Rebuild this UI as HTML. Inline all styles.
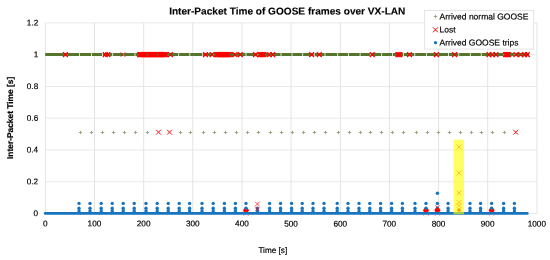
<!DOCTYPE html><html><head><meta charset="utf-8"><title>Inter-Packet Time of GOOSE frames over VX-LAN</title>
<style>html,body{margin:0;padding:0;background:#fff}svg{display:block;filter:blur(0.35px)}text{font-family:"Liberation Sans",sans-serif;fill:#000;text-rendering:geometricPrecision;stroke:#000;stroke-width:0.18px}</style></head><body>
<svg width="550" height="260" viewBox="0 0 550 260">
<rect width="550" height="260" fill="#fff"/>
<path d="M45.4 213.6H536.9M45.4 181.8H536.9M45.4 150.0H536.9M45.4 118.2H536.9M45.4 86.5H536.9M45.4 54.7H536.9M45.4 22.9H536.9" stroke="#e9e9e9" stroke-width="1" fill="none"/>
<path d="M45.4 22.9V213.6M94.5 22.9V213.6M143.7 22.9V213.6M192.8 22.9V213.6M242.0 22.9V213.6M291.1 22.9V213.6M340.3 22.9V213.6M389.4 22.9V213.6M438.6 22.9V213.6M487.7 22.9V213.6M536.9 22.9V213.6" stroke="#e1e1e1" stroke-width="0.9" fill="none"/>
<g transform="rotate(0.03 275 130)">
<text x="45.4" y="226.4" font-size="8.2" text-anchor="middle">0</text>
<text x="94.5" y="226.4" font-size="8.2" text-anchor="middle">100</text>
<text x="143.7" y="226.4" font-size="8.2" text-anchor="middle">200</text>
<text x="192.8" y="226.4" font-size="8.2" text-anchor="middle">300</text>
<text x="242.0" y="226.4" font-size="8.2" text-anchor="middle">400</text>
<text x="291.1" y="226.4" font-size="8.2" text-anchor="middle">500</text>
<text x="340.3" y="226.4" font-size="8.2" text-anchor="middle">600</text>
<text x="389.4" y="226.4" font-size="8.2" text-anchor="middle">700</text>
<text x="438.6" y="226.4" font-size="8.2" text-anchor="middle">800</text>
<text x="487.7" y="226.4" font-size="8.2" text-anchor="middle">900</text>
<text x="536.9" y="226.4" font-size="8.2" text-anchor="middle">1000</text>
<text x="38.2" y="216.2" font-size="8.2" text-anchor="end">0</text>
<text x="38.2" y="184.4" font-size="8.2" text-anchor="end">0.2</text>
<text x="38.2" y="152.7" font-size="8.2" text-anchor="end">0.4</text>
<text x="38.2" y="120.9" font-size="8.2" text-anchor="end">0.6</text>
<text x="38.2" y="89.1" font-size="8.2" text-anchor="end">0.8</text>
<text x="38.2" y="57.4" font-size="8.2" text-anchor="end">1</text>
<text x="38.2" y="25.6" font-size="8.2" text-anchor="end">1.2</text>
<text x="169.1" y="14.55" font-size="10" font-weight="bold" textLength="236.2" lengthAdjust="spacingAndGlyphs" style="stroke-width:0.12px">Inter-Packet Time of GOOSE frames over VX-LAN</text>
<text x="272.9" y="253" font-size="8.2" text-anchor="middle">Time [s]</text>
<text transform="translate(13.1 118.0) rotate(-90.03)" font-size="8.4" font-weight="bold" style="stroke-width:0.2px" text-anchor="middle">Inter-Packet Time [s]</text>
</g>
<path d="M45.2 54.6H79.2M80.0 54.6H91.1M91.9 54.6H102.1M102.9 54.6H112.3M113.1 54.6H123.4M124.1 54.6H134.6M135.4 54.6H146.2M146.9 54.6H157.4M158.1 54.6H168.4M169.1 54.6H178.3M179.1 54.6H189.4M190.2 54.6H202.2M202.9 54.6H213.4M214.1 54.6H224.6M225.3 54.6H235.6M236.3 54.6H245.6M246.4 54.6H257.6M258.3 54.6H269.8M270.5 54.6H280.6M281.4 54.6H291.6M292.4 54.6H302.3M303.1 54.6H313.8M314.6 54.6H324.6M325.4 54.6H337.3M338.1 54.6H348.1M348.9 54.6H359.7M360.5 54.6H370.0M370.7 54.6H381.3M382.1 54.6H392.1M392.9 54.6H403.1M403.9 54.6H414.4M415.2 54.6H426.0M426.8 54.6H437.6M438.3 54.6H448.2M449.0 54.6H458.4M459.2 54.6H469.9M470.7 54.6H480.8M481.6 54.6H491.8M492.5 54.6H503.8M504.5 54.6H514.6M515.3 54.6H529.0" stroke="#55752d" stroke-width="3" fill="none"/>
<path d="M63.0 52.2l4.8 4.8M63.0 57.0l4.8 -4.8" stroke="#ff0000" stroke-width="1.25" fill="none"/>
<path d="M102.9 52.2l4.8 4.8M102.9 57.0l4.8 -4.8" stroke="#ff0000" stroke-width="1.25" fill="none"/>
<path d="M105.5 52.2l4.8 4.8M105.5 57.0l4.8 -4.8" stroke="#ff0000" stroke-width="1.25" fill="none"/>
<path d="M168.0 52.2l4.8 4.8M168.0 57.0l4.8 -4.8" stroke="#ff0000" stroke-width="1.25" fill="none"/>
<path d="M203.1 52.2l4.8 4.8M203.1 57.0l4.8 -4.8" stroke="#ff0000" stroke-width="1.25" fill="none"/>
<path d="M209.7 52.2l4.8 4.8M209.7 57.0l4.8 -4.8" stroke="#ff0000" stroke-width="1.25" fill="none"/>
<path d="M232.6 52.2l4.8 4.8M232.6 57.0l4.8 -4.8" stroke="#ff0000" stroke-width="1.25" fill="none"/>
<path d="M237.9 52.2l4.8 4.8M237.9 57.0l4.8 -4.8" stroke="#ff0000" stroke-width="1.25" fill="none"/>
<path d="M253.1 52.2l4.8 4.8M253.1 57.0l4.8 -4.8" stroke="#ff0000" stroke-width="1.25" fill="none"/>
<path d="M267.1 52.2l4.8 4.8M267.1 57.0l4.8 -4.8" stroke="#ff0000" stroke-width="1.25" fill="none"/>
<path d="M270.3 52.2l4.8 4.8M270.3 57.0l4.8 -4.8" stroke="#ff0000" stroke-width="1.25" fill="none"/>
<path d="M309.2 52.2l4.8 4.8M309.2 57.0l4.8 -4.8" stroke="#ff0000" stroke-width="1.25" fill="none"/>
<path d="M316.9 52.2l4.8 4.8M316.9 57.0l4.8 -4.8" stroke="#ff0000" stroke-width="1.25" fill="none"/>
<path d="M369.8 52.2l4.8 4.8M369.8 57.0l4.8 -4.8" stroke="#ff0000" stroke-width="1.25" fill="none"/>
<path d="M407.1 52.2l4.8 4.8M407.1 57.0l4.8 -4.8" stroke="#ff0000" stroke-width="1.25" fill="none"/>
<path d="M434.0 52.2l4.8 4.8M434.0 57.0l4.8 -4.8" stroke="#ff0000" stroke-width="1.25" fill="none"/>
<path d="M452.2 52.2l4.8 4.8M452.2 57.0l4.8 -4.8" stroke="#ff0000" stroke-width="1.25" fill="none"/>
<path d="M486.6 52.2l4.8 4.8M486.6 57.0l4.8 -4.8" stroke="#ff0000" stroke-width="1.25" fill="none"/>
<path d="M489.8 52.2l4.8 4.8M489.8 57.0l4.8 -4.8" stroke="#ff0000" stroke-width="1.25" fill="none"/>
<path d="M493.6 52.2l4.8 4.8M493.6 57.0l4.8 -4.8" stroke="#ff0000" stroke-width="1.25" fill="none"/>
<path d="M513.6 52.2l4.8 4.8M513.6 57.0l4.8 -4.8" stroke="#ff0000" stroke-width="1.25" fill="none"/>
<path d="M518.2 52.2l4.8 4.8M518.2 57.0l4.8 -4.8" stroke="#ff0000" stroke-width="1.25" fill="none"/>
<path d="M522.2 52.2l4.8 4.8M522.2 57.0l4.8 -4.8" stroke="#ff0000" stroke-width="1.25" fill="none"/>
<path d="M525.0 52.2l4.8 4.8M525.0 57.0l4.8 -4.8" stroke="#ff0000" stroke-width="1.25" fill="none"/>
<path d="M137.2 52.2l4.8 4.8M137.2 57.0l4.8 -4.8" stroke="#ff0000" stroke-width="1.25" fill="none"/>
<path d="M138.2 52.2l4.8 4.8M138.2 57.0l4.8 -4.8" stroke="#ff0000" stroke-width="1.25" fill="none"/>
<path d="M139.2 52.2l4.8 4.8M139.2 57.0l4.8 -4.8" stroke="#ff0000" stroke-width="1.25" fill="none"/>
<path d="M140.2 52.2l4.8 4.8M140.2 57.0l4.8 -4.8" stroke="#ff0000" stroke-width="1.25" fill="none"/>
<path d="M141.2 52.2l4.8 4.8M141.2 57.0l4.8 -4.8" stroke="#ff0000" stroke-width="1.25" fill="none"/>
<path d="M142.2 52.2l4.8 4.8M142.2 57.0l4.8 -4.8" stroke="#ff0000" stroke-width="1.25" fill="none"/>
<path d="M143.2 52.2l4.8 4.8M143.2 57.0l4.8 -4.8" stroke="#ff0000" stroke-width="1.25" fill="none"/>
<path d="M144.1 52.2l4.8 4.8M144.1 57.0l4.8 -4.8" stroke="#ff0000" stroke-width="1.25" fill="none"/>
<path d="M145.1 52.2l4.8 4.8M145.1 57.0l4.8 -4.8" stroke="#ff0000" stroke-width="1.25" fill="none"/>
<path d="M146.1 52.2l4.8 4.8M146.1 57.0l4.8 -4.8" stroke="#ff0000" stroke-width="1.25" fill="none"/>
<path d="M147.1 52.2l4.8 4.8M147.1 57.0l4.8 -4.8" stroke="#ff0000" stroke-width="1.25" fill="none"/>
<path d="M148.1 52.2l4.8 4.8M148.1 57.0l4.8 -4.8" stroke="#ff0000" stroke-width="1.25" fill="none"/>
<path d="M149.1 52.2l4.8 4.8M149.1 57.0l4.8 -4.8" stroke="#ff0000" stroke-width="1.25" fill="none"/>
<path d="M150.1 52.2l4.8 4.8M150.1 57.0l4.8 -4.8" stroke="#ff0000" stroke-width="1.25" fill="none"/>
<path d="M151.1 52.2l4.8 4.8M151.1 57.0l4.8 -4.8" stroke="#ff0000" stroke-width="1.25" fill="none"/>
<path d="M152.1 52.2l4.8 4.8M152.1 57.0l4.8 -4.8" stroke="#ff0000" stroke-width="1.25" fill="none"/>
<path d="M153.1 52.2l4.8 4.8M153.1 57.0l4.8 -4.8" stroke="#ff0000" stroke-width="1.25" fill="none"/>
<path d="M154.1 52.2l4.8 4.8M154.1 57.0l4.8 -4.8" stroke="#ff0000" stroke-width="1.25" fill="none"/>
<path d="M155.1 52.2l4.8 4.8M155.1 57.0l4.8 -4.8" stroke="#ff0000" stroke-width="1.25" fill="none"/>
<path d="M156.1 52.2l4.8 4.8M156.1 57.0l4.8 -4.8" stroke="#ff0000" stroke-width="1.25" fill="none"/>
<path d="M157.0 52.2l4.8 4.8M157.0 57.0l4.8 -4.8" stroke="#ff0000" stroke-width="1.25" fill="none"/>
<path d="M158.0 52.2l4.8 4.8M158.0 57.0l4.8 -4.8" stroke="#ff0000" stroke-width="1.25" fill="none"/>
<path d="M159.0 52.2l4.8 4.8M159.0 57.0l4.8 -4.8" stroke="#ff0000" stroke-width="1.25" fill="none"/>
<path d="M160.0 52.2l4.8 4.8M160.0 57.0l4.8 -4.8" stroke="#ff0000" stroke-width="1.25" fill="none"/>
<path d="M161.0 52.2l4.8 4.8M161.0 57.0l4.8 -4.8" stroke="#ff0000" stroke-width="1.25" fill="none"/>
<path d="M162.0 52.2l4.8 4.8M162.0 57.0l4.8 -4.8" stroke="#ff0000" stroke-width="1.25" fill="none"/>
<path d="M163.0 52.2l4.8 4.8M163.0 57.0l4.8 -4.8" stroke="#ff0000" stroke-width="1.25" fill="none"/>
<path d="M214.0 52.2l4.8 4.8M214.0 57.0l4.8 -4.8" stroke="#ff0000" stroke-width="1.25" fill="none"/>
<path d="M215.0 52.2l4.8 4.8M215.0 57.0l4.8 -4.8" stroke="#ff0000" stroke-width="1.25" fill="none"/>
<path d="M216.0 52.2l4.8 4.8M216.0 57.0l4.8 -4.8" stroke="#ff0000" stroke-width="1.25" fill="none"/>
<path d="M217.0 52.2l4.8 4.8M217.0 57.0l4.8 -4.8" stroke="#ff0000" stroke-width="1.25" fill="none"/>
<path d="M217.9 52.2l4.8 4.8M217.9 57.0l4.8 -4.8" stroke="#ff0000" stroke-width="1.25" fill="none"/>
<path d="M218.9 52.2l4.8 4.8M218.9 57.0l4.8 -4.8" stroke="#ff0000" stroke-width="1.25" fill="none"/>
<path d="M219.9 52.2l4.8 4.8M219.9 57.0l4.8 -4.8" stroke="#ff0000" stroke-width="1.25" fill="none"/>
<path d="M220.9 52.2l4.8 4.8M220.9 57.0l4.8 -4.8" stroke="#ff0000" stroke-width="1.25" fill="none"/>
<path d="M221.9 52.2l4.8 4.8M221.9 57.0l4.8 -4.8" stroke="#ff0000" stroke-width="1.25" fill="none"/>
<path d="M222.9 52.2l4.8 4.8M222.9 57.0l4.8 -4.8" stroke="#ff0000" stroke-width="1.25" fill="none"/>
<path d="M223.9 52.2l4.8 4.8M223.9 57.0l4.8 -4.8" stroke="#ff0000" stroke-width="1.25" fill="none"/>
<path d="M224.8 52.2l4.8 4.8M224.8 57.0l4.8 -4.8" stroke="#ff0000" stroke-width="1.25" fill="none"/>
<path d="M225.8 52.2l4.8 4.8M225.8 57.0l4.8 -4.8" stroke="#ff0000" stroke-width="1.25" fill="none"/>
<path d="M226.8 52.2l4.8 4.8M226.8 57.0l4.8 -4.8" stroke="#ff0000" stroke-width="1.25" fill="none"/>
<path d="M227.8 52.2l4.8 4.8M227.8 57.0l4.8 -4.8" stroke="#ff0000" stroke-width="1.25" fill="none"/>
<path d="M257.5 52.2l4.8 4.8M257.5 57.0l4.8 -4.8" stroke="#ff0000" stroke-width="1.25" fill="none"/>
<path d="M258.5 52.2l4.8 4.8M258.5 57.0l4.8 -4.8" stroke="#ff0000" stroke-width="1.25" fill="none"/>
<path d="M259.6 52.2l4.8 4.8M259.6 57.0l4.8 -4.8" stroke="#ff0000" stroke-width="1.25" fill="none"/>
<path d="M260.6 52.2l4.8 4.8M260.6 57.0l4.8 -4.8" stroke="#ff0000" stroke-width="1.25" fill="none"/>
<path d="M261.6 52.2l4.8 4.8M261.6 57.0l4.8 -4.8" stroke="#ff0000" stroke-width="1.25" fill="none"/>
<path d="M395.5 52.2l4.8 4.8M395.5 57.0l4.8 -4.8" stroke="#ff0000" stroke-width="1.25" fill="none"/>
<path d="M396.5 52.2l4.8 4.8M396.5 57.0l4.8 -4.8" stroke="#ff0000" stroke-width="1.25" fill="none"/>
<path d="M397.5 52.2l4.8 4.8M397.5 57.0l4.8 -4.8" stroke="#ff0000" stroke-width="1.25" fill="none"/>
<path d="M503.1 52.2l4.8 4.8M503.1 57.0l4.8 -4.8" stroke="#ff0000" stroke-width="1.25" fill="none"/>
<path d="M504.1 52.2l4.8 4.8M504.1 57.0l4.8 -4.8" stroke="#ff0000" stroke-width="1.25" fill="none"/>
<path d="M505.0 52.2l4.8 4.8M505.0 57.0l4.8 -4.8" stroke="#ff0000" stroke-width="1.25" fill="none"/>
<path d="M506.0 52.2l4.8 4.8M506.0 57.0l4.8 -4.8" stroke="#ff0000" stroke-width="1.25" fill="none"/>
<path d="M120.5 52.2l4.8 4.8M120.5 57.0l4.8 -4.8" stroke="#ff0000" stroke-width="0.70" fill="none"/>
<circle cx="136.9" cy="54.6" r="1.05" fill="#55752d"/>
<circle cx="147.3" cy="54.6" r="1.05" fill="#55752d"/>
<circle cx="157.5" cy="54.6" r="1.05" fill="#55752d"/>
<circle cx="168.7" cy="54.6" r="1.05" fill="#55752d"/>
<circle cx="209.3" cy="54.6" r="1.05" fill="#55752d"/>
<circle cx="214.9" cy="54.6" r="1.05" fill="#55752d"/>
<circle cx="230.8" cy="54.6" r="1.05" fill="#55752d"/>
<circle cx="237.3" cy="54.6" r="1.05" fill="#55752d"/>
<circle cx="258.7" cy="54.6" r="1.05" fill="#55752d"/>
<circle cx="266.0" cy="54.6" r="1.05" fill="#55752d"/>
<circle cx="271.1" cy="54.6" r="1.05" fill="#55752d"/>
<circle cx="490.7" cy="54.6" r="1.05" fill="#55752d"/>
<circle cx="494.0" cy="54.6" r="1.05" fill="#55752d"/>
<circle cx="512.2" cy="54.6" r="1.05" fill="#55752d"/>
<circle cx="518.6" cy="54.6" r="1.05" fill="#55752d"/>
<circle cx="521.6" cy="54.6" r="1.05" fill="#55752d"/>
<path d="M78.80 132.50h3.4M80.50 130.80v3.4M89.80 132.50h3.4M91.50 130.80v3.4M100.80 132.50h3.4M102.50 130.80v3.4M111.80 132.50h3.4M113.50 130.80v3.4M122.80 132.50h3.4M124.50 130.80v3.4M133.80 132.50h3.4M135.50 130.80v3.4M145.80 132.50h3.4M147.50 130.80v3.4M178.80 132.50h3.4M180.50 130.80v3.4M188.80 132.50h3.4M190.50 130.80v3.4M201.80 132.50h3.4M203.50 130.80v3.4M212.80 132.50h3.4M214.50 130.80v3.4M223.80 132.50h3.4M225.50 130.80v3.4M234.80 132.50h3.4M236.50 130.80v3.4M245.80 132.50h3.4M247.50 130.80v3.4M256.80 132.50h3.4M258.50 130.80v3.4M268.80 132.50h3.4M270.50 130.80v3.4M279.80 132.50h3.4M281.50 130.80v3.4M290.80 132.50h3.4M292.50 130.80v3.4M301.80 132.50h3.4M303.50 130.80v3.4M312.80 132.50h3.4M314.50 130.80v3.4M323.80 132.50h3.4M325.50 130.80v3.4M336.80 132.50h3.4M338.50 130.80v3.4M347.80 132.50h3.4M349.50 130.80v3.4M358.80 132.50h3.4M360.50 130.80v3.4M368.80 132.50h3.4M370.50 130.80v3.4M379.80 132.50h3.4M381.50 130.80v3.4M390.80 132.50h3.4M392.50 130.80v3.4M401.80 132.50h3.4M403.50 130.80v3.4M414.80 132.50h3.4M416.50 130.80v3.4M425.80 132.50h3.4M427.50 130.80v3.4M436.80 132.50h3.4M438.50 130.80v3.4M447.80 132.50h3.4M449.50 130.80v3.4M458.80 132.50h3.4M460.50 130.80v3.4M469.80 132.50h3.4M471.50 130.80v3.4M479.80 132.50h3.4M481.50 130.80v3.4M490.80 132.50h3.4M492.50 130.80v3.4M502.80 132.50h3.4M504.50 130.80v3.4" stroke="#86986a" stroke-width="0.8" fill="none"/>
<path d="M156.1 129.8l4.8 4.8M156.1 134.6l4.8 -4.8" stroke="#ff0000" stroke-width="0.95" fill="none"/>
<path d="M167.1 129.8l4.8 4.8M167.1 134.6l4.8 -4.8" stroke="#ff0000" stroke-width="0.95" fill="none"/>
<path d="M513.3 129.8l4.8 4.8M513.3 134.6l4.8 -4.8" stroke="#ff0000" stroke-width="0.95" fill="none"/>
<circle cx="79.0" cy="203.4" r="1.7" fill="#1874be"/>
<circle cx="79.0" cy="208.3" r="1.7" fill="#1874be"/>
<circle cx="79.0" cy="210.9" r="1.7" fill="#1874be"/>
<rect x="78.0" y="208.3" width="2" height="4.5" fill="#1874be"/>
<circle cx="90.0" cy="203.4" r="1.7" fill="#1874be"/>
<circle cx="90.0" cy="208.3" r="1.7" fill="#1874be"/>
<circle cx="90.0" cy="210.9" r="1.7" fill="#1874be"/>
<rect x="89.0" y="208.3" width="2" height="4.5" fill="#1874be"/>
<circle cx="101.2" cy="203.4" r="1.7" fill="#1874be"/>
<circle cx="101.2" cy="208.3" r="1.7" fill="#1874be"/>
<circle cx="101.2" cy="210.9" r="1.7" fill="#1874be"/>
<rect x="100.2" y="208.3" width="2" height="4.5" fill="#1874be"/>
<circle cx="112.2" cy="203.4" r="1.7" fill="#1874be"/>
<circle cx="112.2" cy="208.3" r="1.7" fill="#1874be"/>
<circle cx="112.2" cy="210.9" r="1.7" fill="#1874be"/>
<rect x="111.2" y="208.3" width="2" height="4.5" fill="#1874be"/>
<circle cx="123.2" cy="203.4" r="1.7" fill="#1874be"/>
<circle cx="123.2" cy="208.3" r="1.7" fill="#1874be"/>
<circle cx="123.2" cy="210.9" r="1.7" fill="#1874be"/>
<rect x="122.2" y="208.3" width="2" height="4.5" fill="#1874be"/>
<circle cx="134.2" cy="203.4" r="1.7" fill="#1874be"/>
<circle cx="134.2" cy="208.3" r="1.7" fill="#1874be"/>
<circle cx="134.2" cy="210.9" r="1.7" fill="#1874be"/>
<rect x="133.2" y="208.3" width="2" height="4.5" fill="#1874be"/>
<circle cx="146.0" cy="203.4" r="1.7" fill="#1874be"/>
<circle cx="146.0" cy="208.3" r="1.7" fill="#1874be"/>
<circle cx="146.0" cy="210.9" r="1.7" fill="#1874be"/>
<rect x="145.0" y="208.3" width="2" height="4.5" fill="#1874be"/>
<circle cx="157.2" cy="203.4" r="1.7" fill="#1874be"/>
<circle cx="157.2" cy="208.3" r="1.7" fill="#1874be"/>
<circle cx="157.2" cy="210.9" r="1.7" fill="#1874be"/>
<rect x="156.2" y="208.3" width="2" height="4.5" fill="#1874be"/>
<circle cx="168.2" cy="203.4" r="1.7" fill="#1874be"/>
<circle cx="168.2" cy="208.3" r="1.7" fill="#1874be"/>
<circle cx="168.2" cy="210.9" r="1.7" fill="#1874be"/>
<rect x="167.2" y="208.3" width="2" height="4.5" fill="#1874be"/>
<circle cx="179.2" cy="203.4" r="1.7" fill="#1874be"/>
<circle cx="179.2" cy="208.3" r="1.7" fill="#1874be"/>
<circle cx="179.2" cy="210.9" r="1.7" fill="#1874be"/>
<rect x="178.2" y="208.3" width="2" height="4.5" fill="#1874be"/>
<circle cx="189.6" cy="203.4" r="1.7" fill="#1874be"/>
<circle cx="189.6" cy="208.3" r="1.7" fill="#1874be"/>
<circle cx="189.6" cy="210.9" r="1.7" fill="#1874be"/>
<rect x="188.6" y="208.3" width="2" height="4.5" fill="#1874be"/>
<circle cx="202.0" cy="203.4" r="1.7" fill="#1874be"/>
<circle cx="202.0" cy="208.3" r="1.7" fill="#1874be"/>
<circle cx="202.0" cy="210.9" r="1.7" fill="#1874be"/>
<rect x="201.0" y="208.3" width="2" height="4.5" fill="#1874be"/>
<circle cx="213.2" cy="203.4" r="1.7" fill="#1874be"/>
<circle cx="213.2" cy="208.3" r="1.7" fill="#1874be"/>
<circle cx="213.2" cy="210.9" r="1.7" fill="#1874be"/>
<rect x="212.2" y="208.3" width="2" height="4.5" fill="#1874be"/>
<circle cx="224.4" cy="203.4" r="1.7" fill="#1874be"/>
<circle cx="224.4" cy="208.3" r="1.7" fill="#1874be"/>
<circle cx="224.4" cy="210.9" r="1.7" fill="#1874be"/>
<rect x="223.4" y="208.3" width="2" height="4.5" fill="#1874be"/>
<circle cx="235.4" cy="203.4" r="1.7" fill="#1874be"/>
<circle cx="235.4" cy="208.3" r="1.7" fill="#1874be"/>
<circle cx="235.4" cy="210.9" r="1.7" fill="#1874be"/>
<rect x="234.4" y="208.3" width="2" height="4.5" fill="#1874be"/>
<circle cx="246.0" cy="203.4" r="1.7" fill="#1874be"/>
<circle cx="246.0" cy="208.3" r="1.7" fill="#1874be"/>
<circle cx="246.0" cy="210.9" r="1.7" fill="#1874be"/>
<rect x="245.0" y="208.3" width="2" height="4.5" fill="#1874be"/>
<circle cx="257.4" cy="208.3" r="1.7" fill="#1874be"/>
<circle cx="257.4" cy="210.9" r="1.7" fill="#1874be"/>
<rect x="256.4" y="208.3" width="2" height="4.5" fill="#1874be"/>
<circle cx="269.6" cy="203.4" r="1.7" fill="#1874be"/>
<circle cx="269.6" cy="208.3" r="1.7" fill="#1874be"/>
<circle cx="269.6" cy="210.9" r="1.7" fill="#1874be"/>
<rect x="268.6" y="208.3" width="2" height="4.5" fill="#1874be"/>
<circle cx="280.6" cy="203.4" r="1.7" fill="#1874be"/>
<circle cx="280.6" cy="208.3" r="1.7" fill="#1874be"/>
<circle cx="280.6" cy="210.9" r="1.7" fill="#1874be"/>
<rect x="279.6" y="208.3" width="2" height="4.5" fill="#1874be"/>
<circle cx="291.6" cy="203.4" r="1.7" fill="#1874be"/>
<circle cx="291.6" cy="208.3" r="1.7" fill="#1874be"/>
<circle cx="291.6" cy="210.9" r="1.7" fill="#1874be"/>
<rect x="290.6" y="208.3" width="2" height="4.5" fill="#1874be"/>
<circle cx="302.2" cy="203.4" r="1.7" fill="#1874be"/>
<circle cx="302.2" cy="208.3" r="1.7" fill="#1874be"/>
<circle cx="302.2" cy="210.9" r="1.7" fill="#1874be"/>
<rect x="301.2" y="208.3" width="2" height="4.5" fill="#1874be"/>
<circle cx="313.0" cy="203.4" r="1.7" fill="#1874be"/>
<circle cx="313.0" cy="208.3" r="1.7" fill="#1874be"/>
<circle cx="313.0" cy="210.9" r="1.7" fill="#1874be"/>
<rect x="312.0" y="208.3" width="2" height="4.5" fill="#1874be"/>
<circle cx="324.0" cy="203.4" r="1.7" fill="#1874be"/>
<circle cx="324.0" cy="208.3" r="1.7" fill="#1874be"/>
<circle cx="324.0" cy="210.9" r="1.7" fill="#1874be"/>
<rect x="323.0" y="208.3" width="2" height="4.5" fill="#1874be"/>
<circle cx="337.2" cy="203.4" r="1.7" fill="#1874be"/>
<circle cx="337.2" cy="208.3" r="1.7" fill="#1874be"/>
<circle cx="337.2" cy="210.9" r="1.7" fill="#1874be"/>
<rect x="336.2" y="208.3" width="2" height="4.5" fill="#1874be"/>
<circle cx="348.0" cy="203.4" r="1.7" fill="#1874be"/>
<circle cx="348.0" cy="208.3" r="1.7" fill="#1874be"/>
<circle cx="348.0" cy="210.9" r="1.7" fill="#1874be"/>
<rect x="347.0" y="208.3" width="2" height="4.5" fill="#1874be"/>
<circle cx="359.0" cy="203.4" r="1.7" fill="#1874be"/>
<circle cx="359.0" cy="208.3" r="1.7" fill="#1874be"/>
<circle cx="359.0" cy="210.9" r="1.7" fill="#1874be"/>
<rect x="358.0" y="208.3" width="2" height="4.5" fill="#1874be"/>
<circle cx="369.8" cy="203.4" r="1.7" fill="#1874be"/>
<circle cx="369.8" cy="208.3" r="1.7" fill="#1874be"/>
<circle cx="369.8" cy="210.9" r="1.7" fill="#1874be"/>
<rect x="368.8" y="208.3" width="2" height="4.5" fill="#1874be"/>
<circle cx="380.6" cy="203.4" r="1.7" fill="#1874be"/>
<circle cx="380.6" cy="208.3" r="1.7" fill="#1874be"/>
<circle cx="380.6" cy="210.9" r="1.7" fill="#1874be"/>
<rect x="379.6" y="208.3" width="2" height="4.5" fill="#1874be"/>
<circle cx="391.6" cy="203.4" r="1.7" fill="#1874be"/>
<circle cx="391.6" cy="208.3" r="1.7" fill="#1874be"/>
<circle cx="391.6" cy="210.9" r="1.7" fill="#1874be"/>
<rect x="390.6" y="208.3" width="2" height="4.5" fill="#1874be"/>
<circle cx="402.4" cy="203.4" r="1.7" fill="#1874be"/>
<circle cx="402.4" cy="208.3" r="1.7" fill="#1874be"/>
<circle cx="402.4" cy="210.9" r="1.7" fill="#1874be"/>
<rect x="401.4" y="208.3" width="2" height="4.5" fill="#1874be"/>
<circle cx="415.0" cy="203.4" r="1.7" fill="#1874be"/>
<circle cx="415.0" cy="208.3" r="1.7" fill="#1874be"/>
<circle cx="415.0" cy="210.9" r="1.7" fill="#1874be"/>
<rect x="414.0" y="208.3" width="2" height="4.5" fill="#1874be"/>
<circle cx="426.0" cy="203.4" r="1.7" fill="#1874be"/>
<circle cx="426.0" cy="208.3" r="1.7" fill="#1874be"/>
<circle cx="426.0" cy="210.9" r="1.7" fill="#1874be"/>
<rect x="425.0" y="208.3" width="2" height="4.5" fill="#1874be"/>
<circle cx="437.4" cy="203.4" r="1.7" fill="#1874be"/>
<circle cx="437.4" cy="208.3" r="1.7" fill="#1874be"/>
<circle cx="437.4" cy="210.9" r="1.7" fill="#1874be"/>
<rect x="436.4" y="208.3" width="2" height="4.5" fill="#1874be"/>
<circle cx="448.1" cy="203.4" r="1.7" fill="#1874be"/>
<circle cx="448.1" cy="208.3" r="1.7" fill="#1874be"/>
<circle cx="448.1" cy="210.9" r="1.7" fill="#1874be"/>
<rect x="447.1" y="208.3" width="2" height="4.5" fill="#1874be"/>
<circle cx="470.0" cy="203.4" r="1.7" fill="#1874be"/>
<circle cx="470.0" cy="208.3" r="1.7" fill="#1874be"/>
<circle cx="470.0" cy="210.9" r="1.7" fill="#1874be"/>
<rect x="469.0" y="208.3" width="2" height="4.5" fill="#1874be"/>
<circle cx="480.6" cy="203.4" r="1.7" fill="#1874be"/>
<circle cx="480.6" cy="208.3" r="1.7" fill="#1874be"/>
<circle cx="480.6" cy="210.9" r="1.7" fill="#1874be"/>
<rect x="479.6" y="208.3" width="2" height="4.5" fill="#1874be"/>
<circle cx="491.6" cy="203.4" r="1.7" fill="#1874be"/>
<circle cx="491.6" cy="208.3" r="1.7" fill="#1874be"/>
<circle cx="491.6" cy="210.9" r="1.7" fill="#1874be"/>
<rect x="490.6" y="208.3" width="2" height="4.5" fill="#1874be"/>
<circle cx="503.6" cy="203.4" r="1.7" fill="#1874be"/>
<circle cx="503.6" cy="208.3" r="1.7" fill="#1874be"/>
<circle cx="503.6" cy="210.9" r="1.7" fill="#1874be"/>
<rect x="502.6" y="208.3" width="2" height="4.5" fill="#1874be"/>
<circle cx="514.4" cy="203.4" r="1.7" fill="#1874be"/>
<circle cx="514.4" cy="208.3" r="1.7" fill="#1874be"/>
<circle cx="514.4" cy="210.9" r="1.7" fill="#1874be"/>
<rect x="513.4" y="208.3" width="2" height="4.5" fill="#1874be"/>
<circle cx="437.4" cy="193.2" r="1.7" fill="#1874be"/>
<ellipse cx="246.0" cy="210.3" rx="2.8" ry="2.1" fill="#ff0000"/>
<path d="M243.4 215.2l1 1M248.6 215.2l-1 1" stroke="#ff0000" stroke-width="0.8" opacity="0.6"/>
<ellipse cx="426.0" cy="210.3" rx="2.8" ry="2.1" fill="#ff0000"/>
<path d="M423.4 215.2l1 1M428.6 215.2l-1 1" stroke="#ff0000" stroke-width="0.8" opacity="0.6"/>
<ellipse cx="437.4" cy="210.3" rx="2.8" ry="2.1" fill="#ff0000"/>
<path d="M434.8 215.2l1 1M440.0 215.2l-1 1" stroke="#ff0000" stroke-width="0.8" opacity="0.6"/>
<ellipse cx="491.6" cy="210.3" rx="2.8" ry="2.1" fill="#ff0000"/>
<path d="M489.0 215.2l1 1M494.2 215.2l-1 1" stroke="#ff0000" stroke-width="0.8" opacity="0.6"/>
<circle cx="246.0" cy="208.2" r="1.5" fill="#1874be"/>
<circle cx="426.0" cy="208.2" r="1.5" fill="#1874be"/>
<circle cx="491.6" cy="208.2" r="1.5" fill="#1874be"/>
<path d="M45.2 213.4H527.2" stroke="#1874be" stroke-width="2.9" stroke-linecap="round" fill="none"/>
<path d="M255.1 201.7l4.6 4.6M255.1 206.3l4.6 -4.6" stroke="#ff0000" stroke-width="0.70" fill="none"/>
<path d="M255.1 206.7l4.6 4.6M255.1 211.3l4.6 -4.6" stroke="#ff0000" stroke-width="0.70" fill="none"/>
<path d="M435.4 205.3l4.0 4.0M435.4 209.3l4.0 -4.0" stroke="#ff0000" stroke-width="0.70" fill="none"/>
<path d="M456.6 144.5l4.8 4.8M456.6 149.3l4.8 -4.8" stroke="#ff0000" stroke-width="0.60" fill="none"/>
<path d="M456.6 170.7l4.8 4.8M456.6 175.5l4.8 -4.8" stroke="#ff0000" stroke-width="0.60" fill="none"/>
<path d="M456.6 190.5l4.8 4.8M456.6 195.3l4.8 -4.8" stroke="#ff0000" stroke-width="0.60" fill="none"/>
<path d="M456.6 199.9l4.8 4.8M456.6 204.7l4.8 -4.8" stroke="#ff0000" stroke-width="0.60" fill="none"/>
<path d="M456.6 203.2l4.8 4.8M456.6 208.0l4.8 -4.8" stroke="#ff0000" stroke-width="0.60" fill="none"/>
<ellipse cx="459.0" cy="210" rx="1.9" ry="1.7" fill="#ff0000"/>
<rect x="453.5" y="139.6" width="10.5" height="74.6" fill="#ffff00" opacity="0.62"/>
<rect x="424.6" y="10.5" width="109" height="38.6" fill="#fff" stroke="#e4e4e4" stroke-width="1"/>
<path d="M433.8 16.5h3.4M435.5 14.8v3.4" stroke="#86986a" stroke-width="0.8" fill="none"/>
<path d="M433.0 27.3l5.0 5.0M433.0 32.3l5.0 -5.0" stroke="#ff0000" stroke-width="1.00" fill="none"/>
<circle cx="435.5" cy="42.7" r="1.6" fill="#1874be"/>
<g transform="rotate(0.03 480 30)">
<text x="439.6" y="19.5" font-size="8.5">Arrived normal GOOSE</text>
<text x="439.6" y="32.6" font-size="8.5">Lost</text>
<text x="439.6" y="45.5" font-size="8.5">Arrived GOOSE trips</text>
</g>
</svg></body></html>
